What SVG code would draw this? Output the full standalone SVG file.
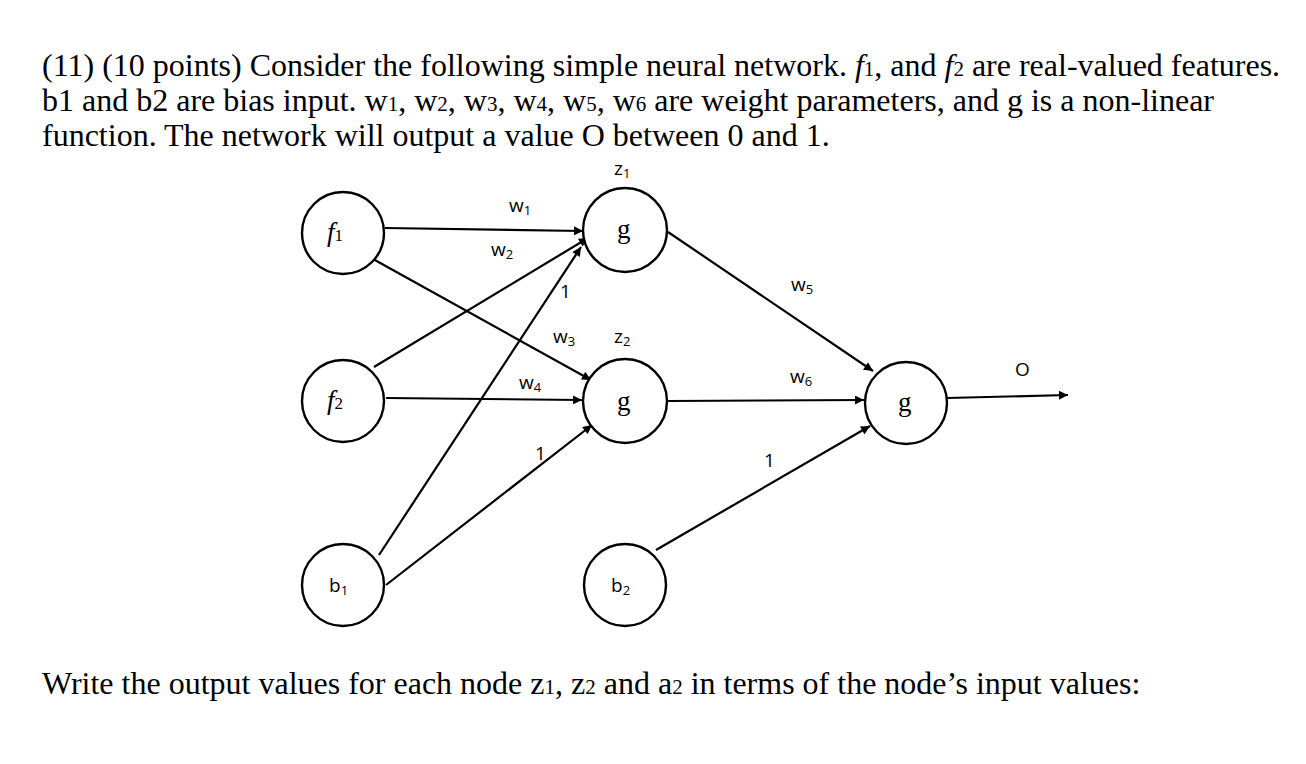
<svg xmlns="http://www.w3.org/2000/svg" width="1306" height="764" viewBox="0 0 1306 764">
<style>
.t{font-family:"Liberation Serif",serif;font-size:32px;fill:#000}
.l{font-family:"Open Sans","Liberation Sans",sans-serif;font-size:19px;fill:#000}
.n{font-family:"Liberation Serif",serif;font-size:27px;fill:#000}
circle{fill:#fff;stroke:#000;stroke-width:2.4}
line{stroke:#000;stroke-width:2.2}
</style>
<defs><marker id="a" viewBox="0 0 10 10" refX="10" refY="5" markerWidth="11" markerHeight="9" orient="auto" markerUnits="userSpaceOnUse"><path d="M0,0L10,5L0,10z"/></marker></defs>
<rect width="1306" height="764" fill="#fff"/>
<text class="t" x="42" y="76">(11) (10 points) Consider the following simple neural network. <tspan font-style="italic">f</tspan><tspan font-size="21">1</tspan>, and  <tspan font-style="italic">f</tspan><tspan font-size="21">2</tspan> are real-valued features.</text>
<text class="t" x="42" y="111">b1 and b2 are bias input. w<tspan font-size="21">1</tspan>, w<tspan font-size="21">2</tspan>, w<tspan font-size="21">3</tspan>, w<tspan font-size="21">4</tspan>, w<tspan font-size="21">5</tspan>, w<tspan font-size="21">6</tspan> are weight parameters, and g is a non-linear</text>
<text class="t" x="42" y="146">function. The network will output a value O between 0 and 1.</text>
<text class="t" x="42" y="694">Write the output values for each node z<tspan font-size="21">1</tspan>, z<tspan font-size="21">2</tspan> and a<tspan font-size="21">2</tspan> in terms of the node’s input values:</text>
<g id="edges">
<line x1="385" y1="228" x2="583" y2="231" marker-end="url(#a)"/>
<line x1="373" y1="259" x2="591" y2="380" marker-end="url(#a)"/>
<line x1="374" y1="367" x2="588" y2="238" marker-end="url(#a)"/>
<line x1="386" y1="398" x2="582" y2="400" marker-end="url(#a)"/>
<line x1="379" y1="555" x2="581" y2="247" marker-end="url(#a)"/>
<line x1="386" y1="585" x2="592" y2="425" marker-end="url(#a)"/>
<line x1="668" y1="232" x2="873" y2="371" marker-end="url(#a)"/>
<line x1="667" y1="401" x2="864" y2="400" marker-end="url(#a)"/>
<line x1="656" y1="550" x2="870" y2="426" marker-end="url(#a)"/>
<line x1="947" y1="398" x2="1068" y2="395" marker-end="url(#a)"/>
</g>
<g id="labels">
<text class="l" x="509" y="212">w<tspan font-size="13" dy="3">1</tspan></text>
<text class="l" x="491" y="256">w<tspan font-size="13" dy="3">2</tspan></text>
<text class="l" x="560" y="298">1</text>
<text class="l" x="553" y="343">w<tspan font-size="13" dy="3">3</tspan></text>
<text class="l" x="614" y="175">z<tspan font-size="13" dy="3">1</tspan></text>
<text class="l" x="614" y="343">z<tspan font-size="13" dy="3">2</tspan></text>
<text class="l" x="519" y="389">w<tspan font-size="13" dy="3">4</tspan></text>
<text class="l" x="535" y="460">1</text>
<text class="l" x="791" y="291">w<tspan font-size="13" dy="3">5</tspan></text>
<text class="l" x="790" y="383">w<tspan font-size="13" dy="3">6</tspan></text>
<text class="l" x="764" y="467">1</text>
<text class="l" x="1015" y="376">O</text>
</g>
<g id="f1"><circle cx="343" cy="233" r="41"/><text class="n" x="327" y="241" font-style="italic">f<tspan font-size="17" font-style="normal">1</tspan></text></g>
<g id="f2"><circle cx="343" cy="401" r="41"/><text class="n" x="327" y="409" font-style="italic">f<tspan font-size="17" font-style="normal">2</tspan></text></g>
<g id="b1"><circle cx="343" cy="585" r="41"/><text class="l" x="329" y="592">b<tspan font-size="13" dy="3">1</tspan></text></g>
<g id="z1"><circle cx="625" cy="230" r="42"/><text class="n" x="617" y="238">g</text></g>
<g id="z2"><circle cx="625" cy="401" r="42"/><text class="n" x="617" y="410">g</text></g>
<g id="b2"><circle cx="625" cy="585" r="41"/><text class="l" x="611" y="592">b<tspan font-size="13" dy="3">2</tspan></text></g>
<g id="out"><circle cx="906" cy="403" r="41"/><text class="n" x="898" y="411">g</text></g>
</svg>
